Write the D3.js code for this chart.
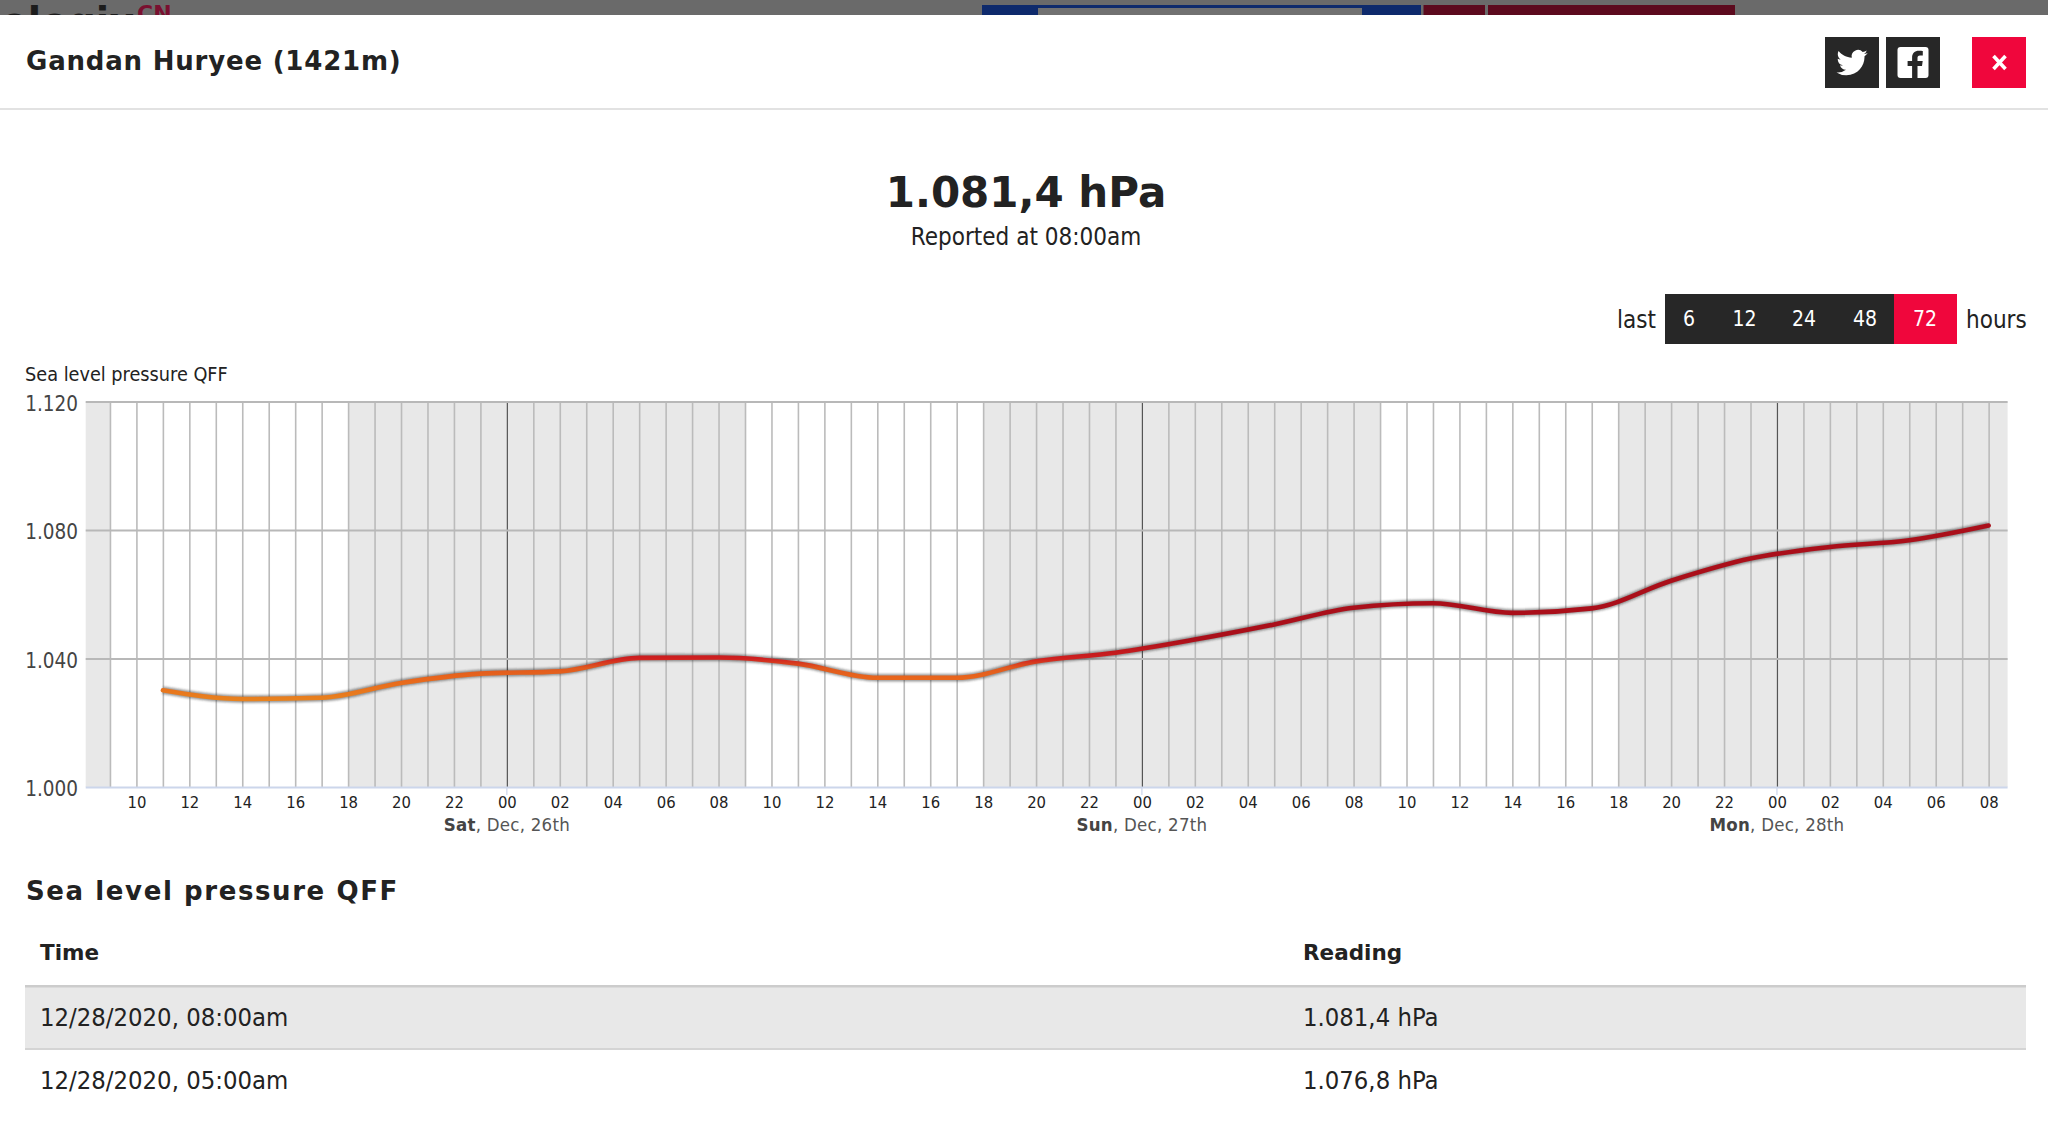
<!DOCTYPE html>
<html>
<head>
<meta charset="utf-8">
<title>Gandan Huryee</title>
<script src="https://cdn.jsdelivr.net/npm/d3@7"></script>
<style>
html, body { margin: 0; padding: 0; background: #fff; }
svg { display: block; }
text { fill: #222; font-family: "DejaVu Sans"; }
.head { font-weight: bold; }
.body { font-stretch: condensed; }
.tick text { font-family: "DejaVu Sans"; font-stretch: condensed; }
</style>
</head>
<body>
<svg id="page" width="2048" height="1126"></svg>
<script>
var stationName = "Gandan Huryee (1421m)";
var currentReading = "1.081,4 hPa";
var reportedAt = "Reported at 08:00am";
var seriesName = "Sea level pressure QFF";

var readingTimes = ["2020-12-25 11","2020-12-25 14","2020-12-25 17","2020-12-25 20","2020-12-25 23",
    "2020-12-26 02","2020-12-26 05","2020-12-26 08","2020-12-26 11","2020-12-26 14","2020-12-26 17","2020-12-26 20","2020-12-26 23",
    "2020-12-27 02","2020-12-27 05","2020-12-27 08","2020-12-27 11","2020-12-27 14","2020-12-27 17","2020-12-27 20","2020-12-27 23",
    "2020-12-28 02","2020-12-28 05","2020-12-28 08"];
var readingValues = [1030.1,1027.4,1027.8,1032.4,1035.3,
    1036.0,1040.2,1040.3,1038.4,1034.0,1034.0,1039.1,1041.8,
    1045.9,1050.6,1055.8,1057.2,1054.2,1055.6,1064.2,1071.1,
    1074.7,1076.8,1081.4];

var yTicks = [1000,1040,1080,1120];
var dayStarts = ["2020-12-25 09","2020-12-26 09","2020-12-27 09"];
var dayEnds = ["2020-12-25 18","2020-12-26 18","2020-12-27 18"];
var dateLabels = [["2020-12-26 00","Sat","Dec, 26th"],["2020-12-27 00","Sun","Dec, 27th"],["2020-12-28 00","Mon","Dec, 28th"]];

var rangeHours = ["6","12","24","48","72"];
var tableHeaders = ["Time","Reading"];
var tableTimes = ["12/28/2020, 08:00am","12/28/2020, 05:00am"];
var tableReadings = ["1.081,4 hPa","1.076,8 hPa"];

var colorValues = [1027,1034,1037,1040,1046,1082];
var colorStops = ["#e8821e","#e8651c","#e05a1e","#cf2020","#aa0f1a","#aa0f1a"];

var parseHour = d3.timeParse("%Y-%m-%d %H");
var svg = d3.select("#page");

// whatever is behind the modal, only a strip shows
var behind = svg.append("g");
behind.append("rect").attr("width",2048).attr("height",15).attr("fill","#6a6a6a");
behind.append("text").attr("x",1).attr("y",35).attr("font-size",39)
    .attr("font-weight","bold").style("fill","#1c1c1c").text("ologix");
behind.append("text").attr("x",137).attr("y",21).attr("font-size",22)
    .attr("font-weight","bold").style("fill","#7a1030").text("CN");
behind.append("rect").attr("x",982).attr("y",5).attr("width",439).attr("height",10).attr("fill","#0e2a6c");
behind.append("rect").attr("x",1038).attr("y",8).attr("width",324).attr("height",7).attr("fill","#717171");
behind.append("rect").attr("x",1423.5).attr("y",5).attr("width",61.5).attr("height",10).attr("fill","#5c0a1e");
behind.append("rect").attr("x",1488).attr("y",5).attr("width",247).attr("height",10).attr("fill","#5c0a1e");
svg.append("rect").attr("y",15).attr("width",2048).attr("height",1111).attr("fill","#fff");

// header
svg.append("text").attr("class","head").attr("x",26).attr("y",70).attr("font-size",26)
    .attr("letter-spacing",0.8).text(stationName);
svg.append("rect").attr("x",0).attr("y",108).attr("width",2048).attr("height",2).attr("fill","#e2e2e2");

svg.append("rect").attr("x",1825).attr("y",37).attr("width",54).attr("height",51).attr("fill","#272727");
svg.append("path").attr("transform","translate(1836.5,47) scale(1.3)").attr("fill","#fff")
    .attr("d","M23.953 4.57a10 10 0 01-2.825.775 4.958 4.958 0 002.163-2.723c-.951.555-2.005.959-3.127 1.184a4.92 4.92 0 00-8.384 4.482C7.69 8.095 4.067 6.13 1.64 3.162a4.822 4.822 0 00-.666 2.475c0 1.71.87 3.213 2.188 4.096a4.904 4.904 0 01-2.228-.616v.06a4.923 4.923 0 003.946 4.827 4.996 4.996 0 01-2.212.085 4.936 4.936 0 004.604 3.417 9.867 9.867 0 01-6.102 2.105c-.39 0-.779-.023-1.17-.067a13.995 13.995 0 007.557 2.209c9.053 0 13.998-7.496 13.998-13.985 0-.21 0-.42-.015-.63A9.935 9.935 0 0024 4.59z");

svg.append("rect").attr("x",1886).attr("y",37).attr("width",54).attr("height",51).attr("fill","#272727");
svg.append("rect").attr("x",1897.5).attr("y",47).attr("width",31).attr("height",31).attr("rx",3).attr("fill","#fff");
svg.append("path").attr("transform","translate(-1.5,0)").attr("fill","#272727")
    .attr("d","M1919 78v-12h4.5l.7-5H1919v-3.2c0-1.5.5-2.4 2.5-2.4h2.8V51c-.6-.1-2.2-.2-4-.2-4 0-6.7 2.4-6.7 6.8V61h-4.5v5h4.5v12z");

svg.append("rect").attr("x",1972).attr("y",37).attr("width",54).attr("height",51).attr("fill","#f0063c");
svg.append("path").attr("stroke","#fff").attr("stroke-width",3.6).attr("d","M1993.5 56l12 13M2005.5 56l-12 13");

// big reading
svg.append("text").attr("class","head").attr("x",1026).attr("y",207).attr("text-anchor","middle")
    .attr("font-size",42).text(currentReading);
svg.append("text").attr("class","body").attr("x",1026).attr("y",245).attr("text-anchor","middle")
    .attr("font-size",24).text(reportedAt);

// range buttons, widths follow the label so they are not evenly spaced
var rangeCentres = d3.scaleOrdinal().domain(rangeHours).range([1689,1744.5,1804,1865,1925]);
svg.append("text").attr("class","body").attr("x",1656).attr("y",328).attr("text-anchor","end").attr("font-size",24).text("last");
svg.append("text").attr("class","body").attr("x",1966).attr("y",328).attr("font-size",24).text("hours");
svg.append("rect").attr("x",1665).attr("y",294).attr("width",229).attr("height",50).attr("fill","#272727");
svg.append("rect").attr("x",1894).attr("y",294).attr("width",63).attr("height",50).attr("fill","#f0063c");
svg.selectAll(".range").data(rangeHours).enter().append("text")
    .attr("class","range body")
    .attr("x",function(d){return rangeCentres(d);})
    .attr("y",326)
    .attr("text-anchor","middle")
    .attr("font-size",21)
    .style("fill","#fff")
    .text(function(d){return d;});

// chart
svg.append("text").attr("class","body").attr("x",25).attr("y",381).attr("font-size",19.7).text(seriesName);

var plot = {left:85.7, right:2007.6, top:401.5, bottom:787};
var x = d3.scaleTime()
    .domain([new Date(2020,11,25,8,5), new Date(2020,11,28,8,43)])
    .range([plot.left,plot.right]);
var y = d3.scaleLinear().domain([1000,1120]).range([plot.bottom,plot.top]);

svg.append("rect").attr("x",plot.left).attr("y",plot.top)
    .attr("width",plot.right-plot.left).attr("height",plot.bottom-plot.top).attr("fill","#e8e8e8");

svg.selectAll(".day").data(dayEnds).enter().append("rect")
    .attr("class","day")
    .attr("x",function(d,i){return x(parseHour(dayStarts[i]));})
    .attr("y",plot.top)
    .attr("width",function(d,i){return x(parseHour(d))-x(parseHour(dayStarts[i]));})
    .attr("height",plot.bottom-plot.top)
    .attr("fill","#fff");

var hours = d3.timeHour.range(new Date(2020,11,25,9), new Date(2020,11,28,9));

var hourGrid = svg.append("g").attr("transform","translate(0,"+plot.bottom+")")
    .call(d3.axisBottom(x).tickValues(hours).tickSize(plot.top-plot.bottom).tickFormat(""));
hourGrid.select(".domain").remove();
hourGrid.selectAll(".tick line")
    .attr("stroke",function(d){return d.getHours()==0 ? "#555" : "#bbb";})
    .attr("stroke-width",function(d){return d.getHours()==0 ? 1.2 : 1.6;});

var yGrid = svg.append("g").attr("transform","translate("+plot.left+",0)")
    .call(d3.axisLeft(y).tickValues(yTicks).tickSize(plot.left-plot.right).tickFormat(""));
yGrid.select(".domain").remove();
yGrid.selectAll(".tick line").attr("stroke",function(d){return d==1000 ? "#ccd6eb" : "#b8b8b8";}).attr("stroke-width",1.8);

// y labels use dots for thousands
var locale = d3.formatLocale({decimal:",",thousands:".",grouping:[3],currency:["",""]});
var yAxis = svg.append("g").attr("transform","translate(78,0)")
    .call(d3.axisLeft(y).tickValues(yTicks).tickSize(0).tickPadding(0).tickFormat(locale.format(",")));
yAxis.select(".domain").remove();
yAxis.selectAll("text").attr("font-size",20.5).attr("font-family",null).style("fill","#444").attr("dy","0.42em");

var xAxis = svg.append("g").attr("transform","translate(0,"+plot.bottom+")")
    .call(d3.axisBottom(x).tickValues(hours.filter(function(d){return d.getHours()%2==0;}))
        .tickSize(0).tickPadding(9.5).tickFormat(d3.timeFormat("%H")));
xAxis.select(".domain").remove();
xAxis.selectAll("text").attr("font-size",16.5).style("fill","#222");

svg.selectAll(".midnight").data(dateLabels).enter().append("line")
    .attr("class","midnight")
    .attr("x1",function(d){return x(parseHour(d[0]));})
    .attr("x2",function(d){return x(parseHour(d[0]));})
    .attr("y1",plot.bottom)
    .attr("y2",plot.bottom+8)
    .attr("stroke","#ccd6eb")
    .attr("stroke-width",1.2);

var dateText = svg.selectAll(".dateLabel").data(dateLabels).enter().append("text")
    .attr("class","dateLabel body")
    .attr("x",function(d){return x(parseHour(d[0]));})
    .attr("y",831)
    .attr("text-anchor","middle")
    .attr("font-size",18.5)
    .attr("letter-spacing",0.25);
dateText.append("tspan").attr("font-weight","bold").style("fill","#444").text(function(d){return d[1];});
dateText.append("tspan").style("fill","#555").text(function(d){return ", "+d[2];});

// line, coloured by value
var defs = svg.append("defs");
var grad = defs.append("linearGradient").attr("id","pressureGrad").attr("gradientUnits","userSpaceOnUse")
    .attr("x1",0).attr("x2",0)
    .attr("y1",y(colorValues[0]))
    .attr("y2",y(colorValues[colorValues.length-1]));
grad.selectAll("stop").data(colorValues).enter().append("stop")
    .attr("offset",function(d){return (d-colorValues[0])/(colorValues[colorValues.length-1]-colorValues[0]);})
    .attr("stop-color",function(d,i){return colorStops[i];});
defs.append("filter").attr("id","soft").attr("x","-5%").attr("y","-50%").attr("width","110%").attr("height","200%")
    .append("feGaussianBlur").attr("stdDeviation",1.3);

var line = d3.line()
    .x(function(d,i){return x(parseHour(readingTimes[i]));})
    .y(function(d){return y(d);})
    .curve(d3.curveMonotoneX);

svg.append("path").datum(readingValues)
    .attr("d",line).attr("fill","none").attr("stroke","#333").attr("stroke-opacity",0.5)
    .attr("stroke-width",7.5).attr("filter","url(#soft)");
svg.append("path").datum(readingValues)
    .attr("d",line).attr("fill","none").attr("stroke","url(#pressureGrad)")
    .attr("stroke-width",4.6).attr("stroke-linecap","round");

// table below
svg.append("text").attr("class","head").attr("x",26).attr("y",900).attr("font-size",26)
    .attr("letter-spacing",1.6).text(seriesName);
svg.append("text").attr("class","head").attr("x",40).attr("y",960).attr("font-size",21.5).text(tableHeaders[0]);
svg.append("text").attr("class","head").attr("x",1303).attr("y",960).attr("font-size",21.5).text(tableHeaders[1]);

svg.append("rect").attr("x",25).attr("y",985).attr("width",2001).attr("height",64).attr("fill","#e8e8e8");
svg.append("rect").attr("x",25).attr("y",985).attr("width",2001).attr("height",2.5).attr("fill","#ccc");
svg.append("rect").attr("x",25).attr("y",1048).attr("width",2001).attr("height",2).attr("fill","#d4d4d4");

var rowY = d3.scalePoint().domain(tableTimes).range([1026,1089]);
svg.selectAll(".rowTime").data(tableTimes).enter().append("text")
    .attr("class","rowTime body").attr("x",40)
    .attr("y",function(d){return rowY(d);})
    .attr("font-size",25.4)
    .text(function(d){return d;});
svg.selectAll(".rowValue").data(tableReadings).enter().append("text")
    .attr("class","rowValue body").attr("x",1303)
    .attr("y",function(d,i){return rowY(tableTimes[i]);})
    .attr("font-size",25.4)
    .text(function(d){return d;});
</script>
</body>
</html>
